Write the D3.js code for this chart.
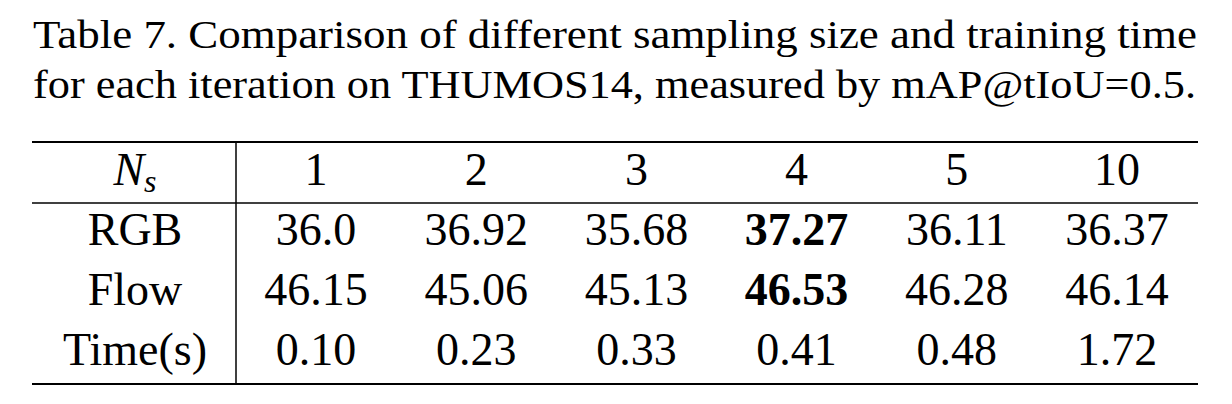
<!DOCTYPE html>
<html><head><meta charset="UTF-8">
<script src="https://d3js.org/d3.v7.min.js"></script>
<style>body{margin:0;background:#fff} svg text{font-family:"Liberation Serif","Times New Roman",Times,"Nimbus Roman","DejaVu Serif",serif}</style>
</head><body>
<svg id="t" width="1232" height="404"></svg>
<script>
var caption = ["Table 7. Comparison of different sampling size and training time",
               "for each iteration on THUMOS14, measured by mAP@tIoU=0.5."];
var columns = ["1", "2", "3", "4", "5", "10"];
var rowNames = ["RGB", "Flow", "Time(s)"];
var rgb = ["36.0", "36.92", "35.68", "37.27", "36.11", "36.37"];
var flow = ["46.15", "45.06", "45.13", "46.53", "46.28", "46.14"];
var time = ["0.10", "0.23", "0.33", "0.41", "0.48", "1.72"];
var bestCol = [3, 3, -1];

var svg = d3.select("#t");

svg.selectAll(".cap").data(caption).enter().append("text")
  .attr("x", 33).attr("y", function(d, i) { return 48 + i * 50; })
  .attr("textLength", function(d, i) { return i == 0 ? 1164 : 1163; })
  .attr("lengthAdjust", "spacingAndGlyphs")
  .style("font-size", "39px").text(function(d) { return d; });

var x = d3.scalePoint().domain(columns).range([316, 1117]);
var y = d3.scalePoint().domain(["h"].concat(rowNames)).range([185, 365]);

function line(x1, y1, x2, y2, w) {
  svg.append("line").attr("x1", x1).attr("y1", y1).attr("x2", x2).attr("y2", y2)
    .attr("stroke", "#000").attr("stroke-width", w);
}
line(32, 142, 1198, 142, 2);
line(32, 203, 1198, 203, 1.5);
line(32, 384, 1198, 384, 2);
line(236, 142, 236, 384, 1.5);

var hdr = svg.append("text").attr("x", 135).attr("y", y("h")).attr("text-anchor", "middle")
  .style("font-size", "46px").style("font-style", "italic");
hdr.append("tspan").text("N");
hdr.append("tspan").attr("dy", 7).style("font-size", "32px").text("s");

svg.selectAll(".ch").data(columns).enter().append("text")
  .attr("x", function(d) { return x(d); }).attr("y", y("h")).attr("text-anchor", "middle")
  .style("font-size", "46px").text(function(d) { return d; });

[rgb, flow, time].forEach(function(vals, r) {
  svg.append("text").attr("x", 135).attr("y", y(rowNames[r])).attr("text-anchor", "middle")
    .style("font-size", "46px").text(rowNames[r]);
  svg.selectAll(".r" + r).data(vals).enter().append("text")
    .attr("x", function(d, i) { return x(columns[i]); }).attr("y", y(rowNames[r]))
    .attr("text-anchor", "middle")
    .style("font-size", "46px")
    .style("font-weight", function(d, i) { return i == bestCol[r] ? "bold" : "normal"; })
    .text(function(d) { return d; });
});
</script>
</body></html>
